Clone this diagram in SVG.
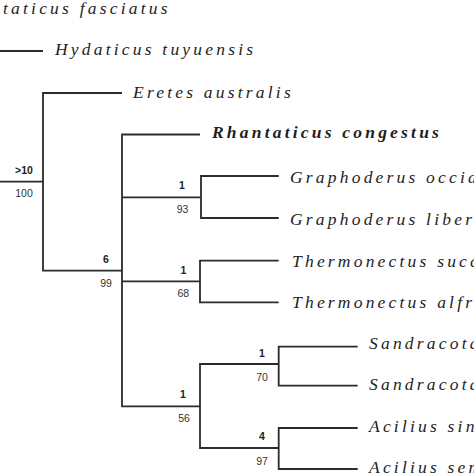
<svg xmlns="http://www.w3.org/2000/svg" width="474" height="474" viewBox="0 0 474 474">
<style>
.br{fill:none;stroke:#2b2b2b;stroke-width:1.8;stroke-linejoin:miter;stroke-linecap:butt}
.sp{font-family:"Liberation Serif","Times New Roman",serif;font-style:italic;font-size:17.5px;letter-spacing:3.2px;fill:#1e1e1e}
.spb{font-weight:bold}
.lt{font-family:"Liberation Sans",Arial,sans-serif;font-size:10.5px;font-weight:bold;fill:#222;text-anchor:middle}
.lb{font-family:"Liberation Sans",Arial,sans-serif;font-size:10.5px;fill:#333;text-anchor:middle}
</style>
<rect width="474" height="474" fill="#fff"/>
<g id="connectors">
<path class="br" d="M0 181.7 H43"/>
<path class="br" d="M0 51 H43"/>
<path class="br" d="M122 93 H43 V270.7 H122"/>
<path class="br" d="M200 134.5 H122 V406.3 H200"/>
<path class="br" d="M122 197.3 H201"/>
<path class="br" d="M278.7 176 H201 V218 H278.7"/>
<path class="br" d="M122 281.3 H200"/>
<path class="br" d="M278.7 260.7 H200 V302.3 H278.7"/>
<path class="br" d="M278.7 364 H200 V448 H278.7"/>
<path class="br" d="M357.7 346.7 H278.7 V385.7 H357.7"/>
<path class="br" d="M357.7 428 H278.7 V469 H357.7"/>
</g>
<g id="tip-hydaticus-fasciatus"><text class="sp" x="3" y="13.5">taticus fasciatus</text></g>
<g id="tip-hydaticus-tuyuensis"><text class="sp" x="55" y="55">Hydaticus tuyuensis</text></g>
<g id="tip-eretes-australis"><text class="sp" x="133" y="97.5">Eretes australis</text></g>
<g id="tip-rhantaticus-congestus"><text class="sp spb" x="212" y="137.5">Rhantaticus congestus</text></g>
<g id="tip-graphoderus-occi"><text class="sp" x="290" y="182.5">Graphoderus occid</text></g>
<g id="tip-graphoderus-liber"><text class="sp" x="290" y="224.5">Graphoderus libert</text></g>
<g id="tip-thermonectus-succ"><text class="sp" x="292" y="266.5">Thermonectus succi</text></g>
<g id="tip-thermonectus-alfr"><text class="sp" x="292" y="308">Thermonectus alfre</text></g>
<g id="tip-sandracottus-1"><text class="sp" x="369" y="349">Sandracota</text></g>
<g id="tip-sandracottus-2"><text class="sp" x="369" y="390">Sandracota</text></g>
<g id="tip-acilius-sin"><text class="sp" x="369" y="431.5">Acilius sinu</text></g>
<g id="tip-acilius-sem"><text class="sp" x="369" y="473">Acilius sem</text></g>
<g id="node-root"><text class="lt" x="24" y="174">&gt;10</text><text class="lb" x="24" y="196.7">100</text></g>
<g id="node-6"><text class="lt" x="106" y="262.7">6</text><text class="lb" x="106" y="286.7">99</text></g>
<g id="node-graphoderus"><text class="lt" x="182" y="189">1</text><text class="lb" x="182.5" y="212.7">93</text></g>
<g id="node-thermonectus"><text class="lt" x="183.5" y="274">1</text><text class="lb" x="183.3" y="297">68</text></g>
<g id="node-56"><text class="lt" x="183" y="398.3">1</text><text class="lb" x="184" y="422.3">56</text></g>
<g id="node-sandracottus"><text class="lt" x="262" y="356.7">1</text><text class="lb" x="262" y="381.3">70</text></g>
<g id="node-acilius"><text class="lt" x="262" y="440">4</text><text class="lb" x="262" y="464.7">97</text></g>
</svg>
